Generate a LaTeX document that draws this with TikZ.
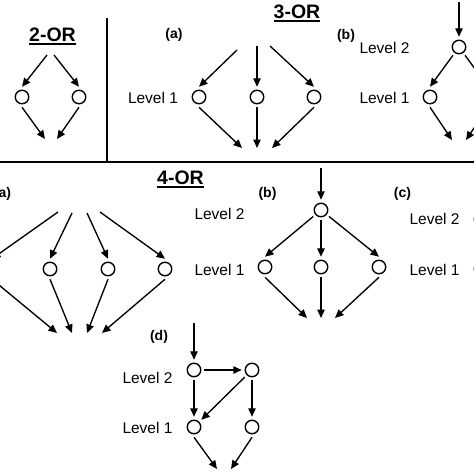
\documentclass[tikz,border=0pt]{standalone}
\usepackage{fontspec}
\setmainfont{Liberation Sans}
\usetikzlibrary{arrows.meta}
\newcommand{\ortitle}[1]{\setbox0\hbox{#1}\vtop{\copy0\kern2pt\hrule height 1.6pt width \wd0}}
\tikzset{orgate/.style={circle,draw,line width=1.4pt,minimum size=13.5pt,
  inner sep=0pt,outer sep=3.5pt}}
\tikzset{flow/.style={-{Triangle[length=8.5pt,width=7.5pt]},line width=1.35pt}}
\tikzset{ttl/.style={font=\bfseries\fontsize{19.5}{20}\selectfont,anchor=base,inner sep=0pt}}
\tikzset{tag/.style={font=\bfseries\fontsize{14}{14}\selectfont,inner sep=0pt}}
\tikzset{lvl/.style={font=\fontsize{15.5}{16}\selectfont,inner sep=0pt}}

\begin{document}
\begin{tikzpicture}[x=1pt,y=-1pt]
\useasboundingbox (0,0) rectangle (474,474);
\clip (0,0) rectangle (474,474);

\draw[line width=2pt] (107,18) -- (107,161);
\draw[line width=2pt] (0,162) -- (474,162);

% 2-OR
\node[ttl] (t2) at (52.5,41) {\ortitle{2-OR}};
\foreach \n/\x in {a/22,b/79} \node[orgate] (o2\n) at (\x,97) {};
\coordinate (s2a) at (47,55);
\coordinate (s2b) at (54,55);
\coordinate (e2a) at (45,139);
\coordinate (e2b) at (57,139);
\foreach \n in {a,b}{
  \draw[flow] (s2\n) -- (o2\n.north);
  \draw[flow] (o2\n.south) -- (e2\n);
}

% 3-OR
\node[ttl] (t3) at (297,18) {\ortitle{3-OR}};
\node[tag] (l3a) at (174,35) {(a)};
\node[lvl] (v3a) at (153,98) {Level 1};
\foreach \n/\x in {a/199,b/257,c/314} \node[orgate] (o3\n) at (\x,97) {};
\foreach \n/\x/\y in {a/237/50,b/257/46,c/270/46} \coordinate (s3\n) at (\x,\y);
\foreach \n/\x in {a/242,b/257,c/272} \coordinate (e3\n) at (\x,148);
\foreach \n in {a,b,c}{
  \draw[flow] (s3\n) -- (o3\n.north);
  \draw[flow] (o3\n.south) -- (e3\n);
}

\node[tag] (l3b) at (346,36) {(b)};
\node[lvl] (v3b) at (384.5,48) {Level 2};
\node[lvl] (v3c) at (384.5,98) {Level 1};
\node[orgate] (o3d) at (459,47) {};
\node[orgate] (o3e) at (430,97) {};
\node[orgate] (o3f) at (488,97) {};
\coordinate (s3d) at (459,2);
\coordinate (e3e) at (452,140);
\coordinate (e3f) at (466,140);
\draw[flow] (s3d) -- (o3d.north);
\draw[flow] (o3d) -- (o3e.north);
\draw[flow] (o3d) -- (o3f.north);
\draw[flow] (o3e.south) -- (e3e);
\draw[flow] (o3f.south) -- (e3f);

% 4-OR
\node[ttl] (t4) at (180.5,184) {\ortitle{4-OR}};
\node[tag] (l4a) at (2.5,194) {(a)};
\foreach \n/\x in {a/-8,b/50,c/108,d/165} \node[orgate] (o4\n) at (\x,269) {};
\foreach \n/\x/\y in {a/58/212,b/72/213,c/87/213,d/100/212} \coordinate (s4\n) at (\x,\y);
\foreach \n/\x in {a/57,b/72,c/87,d/102} \coordinate (e4\n) at (\x,333);
\foreach \n in {a,b,c,d}{
  \draw[flow] (s4\n) -- (o4\n.north);
  \draw[flow] (o4\n.south) -- (e4\n);
}

\node[lvl] (v4a) at (219.5,214) {Level 2};
\node[lvl] (v4b) at (219.5,269.5) {Level 1};
\node[tag] (l4b) at (267.5,194) {(b)};
\node[orgate] (o4e) at (321,210) {};
\foreach \n/\x in {f/265,g/321,h/379} \node[orgate] (o4\n) at (\x,267) {};
\coordinate (s4e) at (321,168);
\foreach \n/\x in {f/307,g/321,h/335} \coordinate (e4\n) at (\x,318);
\draw[flow] (s4e) -- (o4e.north);
\draw[flow] (o4e) -- (o4f.north);
\draw[flow] (o4e.south) -- (o4g.north);
\draw[flow] (o4e) -- (o4h.north);
\foreach \n in {f,g,h} \draw[flow] (o4\n.south) -- (e4\n);

\node[tag] (l4c) at (402.5,194) {(c)};
\node[lvl] (v4c) at (434.5,219) {Level 2};
\node[lvl] (v4d) at (434.5,269.5) {Level 1};
\node[orgate] (o4i) at (481,219) {};
\node[orgate] (o4j) at (481,269) {};

\node[tag] (l4d) at (159,337) {(d)};
\node[lvl] (v4e) at (147.5,377.5) {Level 2};
\node[lvl] (v4f) at (147.5,427.5) {Level 1};
\foreach \n/\x/\y in {k/194/370,l/252/370,m/194/427,n/252/427} \node[orgate] (o4\n) at (\x,\y) {};
\coordinate (s4k) at (194,323);
\coordinate (e4m) at (217,469);
\coordinate (e4n) at (231,469);
\draw[flow] (s4k) -- (o4k.north);
\draw[flow] (o4k) -- (o4l);
\draw[flow] (o4k.south) -- (o4m.north);
\draw[flow] (o4l) -- (o4m);
\draw[flow] (o4l.south) -- (o4n.north);
\draw[flow] (o4m.south) -- (e4m);
\draw[flow] (o4n.south) -- (e4n);

\end{tikzpicture}
\end{document}
